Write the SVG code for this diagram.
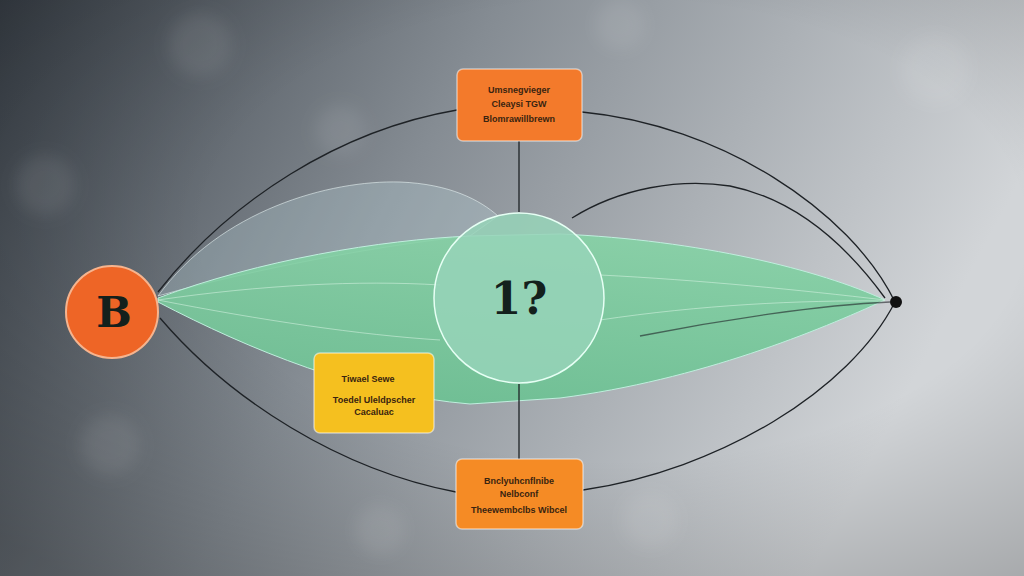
<svg xmlns="http://www.w3.org/2000/svg" width="1024" height="576" viewBox="0 0 1024 576">
<defs>
<linearGradient id="bg" x1="0" y1="0" x2="1" y2="0.3">
<stop offset="0" stop-color="#3a4149"/>
<stop offset="0.45" stop-color="#858c93"/>
<stop offset="1" stop-color="#d2d5d8"/>
</linearGradient>
<radialGradient id="vig" cx="0.6" cy="0.4" r="0.8">
<stop offset="0.5" stop-color="#000" stop-opacity="0"/>
<stop offset="1" stop-color="#000" stop-opacity="0.25"/>
</radialGradient>
<filter id="blur" x="-50%" y="-50%" width="200%" height="200%"><feGaussianBlur stdDeviation="8"/></filter>
<linearGradient id="leaf" x1="0" y1="0" x2="0" y2="1">
<stop offset="0" stop-color="#86d3a6"/>
<stop offset="1" stop-color="#6cc293"/>
</linearGradient>
<style>
.conn{fill:none;stroke:#1e2226;stroke-width:1.3}
.box{stroke:#fff;stroke-opacity:0.5;stroke-width:1.5}
.lbl{font-family:"Liberation Sans",Arial,sans-serif;font-size:9px;font-weight:bold;fill:#3a2410;text-anchor:middle}
.big{font-family:"DejaVu Serif","Liberation Serif",serif;font-weight:bold;fill:#14201c;text-anchor:middle}
</style>
</defs>
<rect width="1024" height="576" fill="url(#bg)"/>
<rect width="1024" height="576" fill="url(#vig)"/>
<g filter="url(#blur)" fill="#fff" fill-opacity="0.08">
<circle cx="200" cy="45" r="32"/>
<circle cx="45" cy="185" r="30"/>
<circle cx="110" cy="445" r="30"/>
<circle cx="340" cy="130" r="25"/>
<circle cx="620" cy="25" r="25"/>
<circle cx="935" cy="70" r="35"/>
<circle cx="650" cy="520" r="28"/>
<circle cx="380" cy="530" r="25"/>
</g>
<g id="lobes">
<path d="M158,296 C220,210 330,180 400,182 C450,184 480,200 498,216 L470,236 C380,245 250,270 158,296 Z" fill="#b9d4dc" fill-opacity="0.3" stroke="#e8f4f4" stroke-opacity="0.6" stroke-width="1"/>
<path d="M158,298 C260,260 380,240 470,236 L560,234 C700,240 820,270 885,300 C820,330 700,380 560,398 L470,404 C360,395 250,350 158,302 Z" fill="url(#leaf)" fill-opacity="0.9" stroke="#bfeedd" stroke-width="1"/>
<g fill="none" stroke="#dff7ea" stroke-opacity="0.5" stroke-width="1">
<path d="M158,300 C260,285 360,280 440,285"/>
<path d="M158,300 C260,320 360,335 440,340"/>
<path d="M600,320 C700,305 800,300 885,301"/>
<path d="M600,275 C700,280 800,290 885,300"/>
</g>
</g>
<g id="connectors">
<path class="conn" d="M158,292 C230,200 340,130 457,110"/>
<path class="conn" d="M582,112 C720,125 850,210 895,302"/>
<path class="conn" d="M160,318 C230,400 340,470 456,492"/>
<path class="conn" d="M583,490 C720,470 850,390 895,302"/>
<path class="conn" d="M519,141 V212"/>
<path class="conn" d="M519,384 V459"/>
<path class="conn" d="M572,218 C620,188 680,178 730,186 C800,200 850,250 885,298"/>
<path class="conn" d="M640,336 C720,320 820,305 890,302" stroke-opacity="0.6"/>
</g>
<g id="node-center">
<circle cx="519" cy="298" r="85" fill="#96d3b8" fill-opacity="0.85" stroke="#e6fff4" stroke-width="1.5"/>
<text class="big" x="519" y="314" font-size="44">1?</text>
</g>
<g id="node-left">
<circle cx="112" cy="312" r="46" fill="#ee6526" stroke="#f6b48e" stroke-width="2"/>
<text class="big" x="114" y="327" font-size="42">B</text>
</g>
<g id="node-end">
<circle cx="896" cy="302" r="6" fill="#111"/>
</g>
<g id="node-top">
<rect class="box" x="457" y="69" width="125" height="72" rx="6" fill="#f37a2b"/>
<text class="lbl" x="519" y="93">Umsnegvieger</text>
<text class="lbl" x="519" y="107">Cleaysi TGW</text>
<text class="lbl" x="519" y="122">Blomrawillbrewn</text>
</g>
<g id="node-yellow">
<rect class="box" x="314" y="353" width="120" height="80" rx="6" fill="#f5c01f"/>
<text class="lbl" x="368" y="382">Tiwael Sewe</text>
<text class="lbl" x="374" y="403">Toedel Uleldpscher</text>
<text class="lbl" x="374" y="415">Cacaluac</text>
</g>
<g id="node-bottom">
<rect class="box" x="456" y="459" width="127" height="70" rx="6" fill="#f58b25"/>
<text class="lbl" x="519" y="484">Bnclyuhcnflnibe</text>
<text class="lbl" x="519" y="497">Nelbconf</text>
<text class="lbl" x="519" y="513">Theewembclbs Wibcel</text>
</g>
</svg>
